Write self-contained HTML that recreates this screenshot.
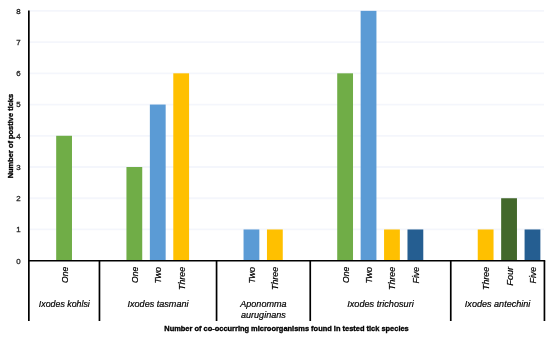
<!DOCTYPE html>
<html lang="en"><head><meta charset="utf-8"><title>Co-occurring microorganisms in tick species</title>
<style>
html,body{margin:0;padding:0;background:#fff}
body{width:550px;height:337px;overflow:hidden}
svg{display:block}
text{font-family:"Liberation Sans",sans-serif;fill:#000;stroke:#000;stroke-width:0.2px}
.it{font-style:italic;font-size:9.2px}
.b{font-weight:bold}
.num{font-size:7.9px;text-anchor:end;fill:#262626;stroke:#262626;stroke-width:0.3px}
</style></head><body>
<svg width="550" height="337" viewBox="0 0 550 337">
<rect width="550" height="337" fill="#fff"/>
<line x1="29.5" y1="229.47" x2="544" y2="229.47" stroke="#e9edf8" stroke-width="1.8" stroke-dasharray="1 1"/>
<line x1="29.5" y1="198.24" x2="544" y2="198.24" stroke="#e9edf8" stroke-width="1.8" stroke-dasharray="1 1"/>
<line x1="29.5" y1="167.01" x2="544" y2="167.01" stroke="#e9edf8" stroke-width="1.8" stroke-dasharray="1 1"/>
<line x1="29.5" y1="135.78" x2="544" y2="135.78" stroke="#e9edf8" stroke-width="1.8" stroke-dasharray="1 1"/>
<line x1="29.5" y1="104.55" x2="544" y2="104.55" stroke="#e9edf8" stroke-width="1.8" stroke-dasharray="1 1"/>
<line x1="29.5" y1="73.32" x2="544" y2="73.32" stroke="#e9edf8" stroke-width="1.8" stroke-dasharray="1 1"/>
<line x1="29.5" y1="42.09" x2="544" y2="42.09" stroke="#e9edf8" stroke-width="1.8" stroke-dasharray="1 1"/>
<line x1="29.5" y1="10.86" x2="544" y2="10.86" stroke="#e9edf8" stroke-width="1.8" stroke-dasharray="1 1"/>
<rect x="56.18" y="135.78" width="15.8" height="124.92" fill="#70AD47"/>
<rect x="126.44" y="167.01" width="15.8" height="93.69" fill="#70AD47"/>
<rect x="149.86" y="104.55" width="15.8" height="156.15" fill="#5B9BD5"/>
<rect x="173.28" y="73.32" width="15.8" height="187.38" fill="#FFC000"/>
<rect x="243.54" y="229.47" width="15.8" height="31.23" fill="#5B9BD5"/>
<rect x="266.96" y="229.47" width="15.8" height="31.23" fill="#FFC000"/>
<rect x="337.22" y="73.32" width="15.8" height="187.38" fill="#70AD47"/>
<rect x="360.64" y="10.86" width="15.8" height="249.84" fill="#5B9BD5"/>
<rect x="384.06" y="229.47" width="15.8" height="31.23" fill="#FFC000"/>
<rect x="407.48" y="229.47" width="15.8" height="31.23" fill="#255E91"/>
<rect x="477.74" y="229.47" width="15.8" height="31.23" fill="#FFC000"/>
<rect x="501.16" y="198.24" width="15.8" height="62.46" fill="#43682B"/>
<rect x="524.58" y="229.47" width="15.8" height="31.23" fill="#255E91"/>
<line x1="28.85" y1="10.5" x2="28.85" y2="321" stroke="#000" stroke-width="1.7"/>
<line x1="28" y1="260.7" x2="545.2" y2="260.7" stroke="#000" stroke-width="1.6"/>
<line x1="99.46" y1="260.7" x2="99.46" y2="321" stroke="#000" stroke-width="1.7"/>
<line x1="216.56" y1="260.7" x2="216.56" y2="321" stroke="#000" stroke-width="1.7"/>
<line x1="310.24" y1="260.7" x2="310.24" y2="321" stroke="#000" stroke-width="1.7"/>
<line x1="450.76" y1="260.7" x2="450.76" y2="321" stroke="#000" stroke-width="1.7"/>
<line x1="544.44" y1="260.7" x2="544.44" y2="321" stroke="#000" stroke-width="1.7"/>
<text class="num" x="20.6" y="263.55">0</text>
<text class="num" x="20.6" y="232.32">1</text>
<text class="num" x="20.6" y="201.09">2</text>
<text class="num" x="20.6" y="169.86">3</text>
<text class="num" x="20.6" y="138.63">4</text>
<text class="num" x="20.6" y="107.40">5</text>
<text class="num" x="20.6" y="76.17">6</text>
<text class="num" x="20.6" y="44.94">7</text>
<text class="num" x="20.6" y="13.71">8</text>
<text class="b" font-size="8" style="stroke-width:0.35px" text-anchor="middle" textLength="84.5" lengthAdjust="spacingAndGlyphs" transform="translate(13.3 136.1) rotate(-90)">Number of postive ticks</text>
<text class="b" font-size="8" style="stroke-width:0.35px" text-anchor="middle" textLength="244.5" lengthAdjust="spacingAndGlyphs" x="286.5" y="330.6">Number of co-occurring microorganisms found in tested tick species</text>
<text class="it" text-anchor="end" textLength="16" lengthAdjust="spacingAndGlyphs" transform="translate(67.53 266.9) rotate(-90)">One</text>
<text class="it" text-anchor="end" textLength="16" lengthAdjust="spacingAndGlyphs" transform="translate(137.79 266.9) rotate(-90)">One</text>
<text class="it" text-anchor="end" textLength="16.6" lengthAdjust="spacingAndGlyphs" transform="translate(161.21 266.9) rotate(-90)">Two</text>
<text class="it" text-anchor="end" textLength="23" lengthAdjust="spacingAndGlyphs" transform="translate(184.63 266.9) rotate(-90)">Three</text>
<text class="it" text-anchor="end" textLength="16.6" lengthAdjust="spacingAndGlyphs" transform="translate(254.89 266.9) rotate(-90)">Two</text>
<text class="it" text-anchor="end" textLength="23" lengthAdjust="spacingAndGlyphs" transform="translate(278.31 266.9) rotate(-90)">Three</text>
<text class="it" text-anchor="end" textLength="16" lengthAdjust="spacingAndGlyphs" transform="translate(348.57 266.9) rotate(-90)">One</text>
<text class="it" text-anchor="end" textLength="16.6" lengthAdjust="spacingAndGlyphs" transform="translate(371.99 266.9) rotate(-90)">Two</text>
<text class="it" text-anchor="end" textLength="23" lengthAdjust="spacingAndGlyphs" transform="translate(395.41 266.9) rotate(-90)">Three</text>
<text class="it" text-anchor="end" textLength="16.5" lengthAdjust="spacingAndGlyphs" transform="translate(418.83 266.9) rotate(-90)">Five</text>
<text class="it" text-anchor="end" textLength="23" lengthAdjust="spacingAndGlyphs" transform="translate(489.09 266.9) rotate(-90)">Three</text>
<text class="it" text-anchor="end" textLength="18.8" lengthAdjust="spacingAndGlyphs" transform="translate(512.51 266.9) rotate(-90)">Four</text>
<text class="it" text-anchor="end" textLength="16.5" lengthAdjust="spacingAndGlyphs" transform="translate(535.93 266.9) rotate(-90)">Five</text>
<text class="it" text-anchor="middle" textLength="51" lengthAdjust="spacingAndGlyphs" x="64.33" y="306.50">Ixodes kohlsi</text>
<text class="it" text-anchor="middle" textLength="61" lengthAdjust="spacingAndGlyphs" x="158.01" y="306.50">Ixodes tasmani</text>
<text class="it" text-anchor="middle" textLength="46.3" lengthAdjust="spacingAndGlyphs" x="263.40" y="306.50">Aponomma</text>
<text class="it" text-anchor="middle" textLength="44.8" lengthAdjust="spacingAndGlyphs" x="263.40" y="318.20">auruginans</text>
<text class="it" text-anchor="middle" textLength="66.5" lengthAdjust="spacingAndGlyphs" x="380.50" y="306.50">Ixodes trichosuri</text>
<text class="it" text-anchor="middle" textLength="65.5" lengthAdjust="spacingAndGlyphs" x="497.60" y="306.50">Ixodes antechini</text>
</svg></body></html>
